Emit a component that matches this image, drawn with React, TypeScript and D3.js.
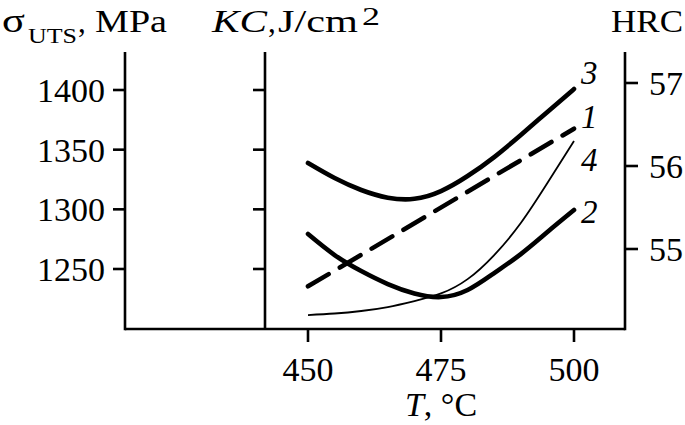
import React from "react";
import * as d3 from "d3";

// temperature, °C
const temps = [450, 455, 460, 465, 470, 475, 480, 485, 490, 495, 500];

// curve 3: σUTS, MPa
const uts = [1338.8, 1326.2, 1316.2, 1309.8, 1308.8, 1315.3, 1327.9, 1343.8, 1362.3, 1381.6, 1400.8];
// curve 1: HRC (dashed)
const hrcTemps = [450, 500];
const hrc = [54.55, 56.45];
// curve 2: KC, J/cm2
const kc = [27.93, 26.17, 24.83, 23.74, 22.95, 22.65, 23.24, 24.66, 26.25, 28.1, 29.94];
// curve 4 (thin), on the KC scale
const curve4 = [21.14, 21.27, 21.48, 21.81, 22.31, 22.95, 24.15, 26.17, 28.85, 32.2, 35.73];

const xTicks = [450, 475, 500];
const utsTicks = [1250, 1300, 1350, 1400];
const kcTicks = [25, 30, 35, 40];
const hrcTicks = [55, 56, 57];

const W = 685;
const H = 425;
const leftX = 125;
const midX = 265;
const rightX = 625;
const topY = 52;
const bottomY = 329;

const FONT = "Liberation Serif, DejaVu Serif, serif";

const x = d3.scaleLinear().domain([450, 500]).range([308, 574]);
const yUts = d3.scaleLinear().domain([1250, 1400]).range([269, 90]);
const yKc = d3.scaleLinear().domain([25, 40]).range([269, 90]);
const yHrc = d3.scaleLinear().domain([55, 57]).range([249, 83]);

const App = () => {
  const line = (ys: number[], sc: d3.ScaleLinear<number, number>, xs = temps) =>
    d3
      .line<number>()
      .x((_, i) => x(xs[i]))
      .y((d) => sc(d))
      .curve(d3.curveNatural)(ys) || "";

  const axisStyle = { stroke: "#000", strokeWidth: 2.6, fill: "none" };
  const labelStyle: React.CSSProperties = { fontSize: 34, fontFamily: FONT };
  const fit = "spacingAndGlyphs";

  return (
    <svg
      width={W}
      height={H}
      style={{ position: "absolute", left: 0, top: 0, background: "#fff", fontFamily: FONT }}
    >
      {/* frame */}
      <line x1={leftX} x2={leftX} y1={topY} y2={bottomY + 1.3} {...axisStyle} />
      <line x1={midX} x2={midX} y1={topY} y2={bottomY} {...axisStyle} />
      <line x1={rightX} x2={rightX} y1={topY} y2={bottomY + 1.3} {...axisStyle} />
      <line x1={leftX} x2={rightX} y1={bottomY} y2={bottomY} {...axisStyle} />

      {/* σUTS axis */}
      {utsTicks.map((t) => (
        <g key={"u" + t}>
          <line x1={leftX - 12} x2={leftX} y1={yUts(t)} y2={yUts(t)} {...axisStyle} />
          <text
            x={leftX - 20}
            y={yUts(t)}
            dy="0.35em"
            textAnchor="end"
            style={labelStyle}
          >
            {t}
          </text>
        </g>
      ))}

      {/* KC axis, ticks only */}
      {kcTicks.map((t) => (
        <line
          key={"k" + t}
          x1={midX - 12}
          x2={midX}
          y1={yKc(t)}
          y2={yKc(t)}
          {...axisStyle}
        />
      ))}

      {/* HRC axis */}
      {hrcTicks.map((t) => (
        <g key={"h" + t}>
          <line x1={rightX} x2={rightX + 13} y1={yHrc(t)} y2={yHrc(t)} {...axisStyle} />
          <text x={rightX + 24} y={yHrc(t)} dy="0.35em" style={labelStyle}>
            {t}
          </text>
        </g>
      ))}

      {/* T axis */}
      {xTicks.map((t) => (
        <g key={"x" + t}>
          <line x1={x(t)} x2={x(t)} y1={bottomY} y2={bottomY + 13} {...axisStyle} />
          <text x={x(t)} y={381} textAnchor="middle" style={labelStyle}>
            {t}
          </text>
        </g>
      ))}
      <text x={441} y={416} textAnchor="middle" style={labelStyle}>
        <tspan fontStyle="italic">T</tspan>, °C
      </text>

      {/* headers */}
      <g style={{ ...labelStyle, fontSize: 31 }}>
        <text x={2} y={32} fontSize={33} textLength={23} lengthAdjust={fit}>σ</text>
        <text x={28} y={43} fontSize={21} textLength={49} lengthAdjust={fit}>UTS</text>
        <text x={78} y={32}>,</text>
        <text x={95} y={32} textLength={72} lengthAdjust={fit}>MPa</text>

        <text x={212} y={32} fontStyle="italic" textLength={55} lengthAdjust={fit}>KC</text>
        <text x={268} y={32}>,</text>
        <text x={278} y={32} textLength={80} lengthAdjust={fit}>J/cm</text>
        <text x={362} y={25} fontSize={26} textLength={18} lengthAdjust={fit}>2</text>

        <text x={611} y={32} textLength={72} lengthAdjust={fit}>HRC</text>
      </g>

      {/* curves */}
      <path d={line(uts, yUts)} fill="none" stroke="#000" strokeWidth={4.6} strokeLinecap="round" />
      <path
        d={line(hrc, yHrc, hrcTemps)}
        fill="none"
        stroke="#000"
        strokeWidth={4.6}
        strokeDasharray="24 13"
        strokeLinecap="round"
      />
      <path d={line(kc, yKc)} fill="none" stroke="#000" strokeWidth={4.6} strokeLinecap="round" />
      <path d={line(curve4, yKc)} fill="none" stroke="#000" strokeWidth={1.8} />

      {/* curve numbers */}
      {[
        ["3", yUts(uts[uts.length - 1]) - 5],
        ["1", yHrc(hrc[hrc.length - 1]) - 1],
        ["4", yKc(curve4[curve4.length - 1]) + 30],
        ["2", yKc(kc[kc.length - 1]) + 13],
      ].map(([n, yy]) => (
        <text
          key={"n" + n}
          x={x(500) + 7}
          y={yy as number}
          style={{ ...labelStyle, fontStyle: "italic", fontSize: 33 }}
        >
          {n}
        </text>
      ))}
    </svg>
  );
};

export default App;
